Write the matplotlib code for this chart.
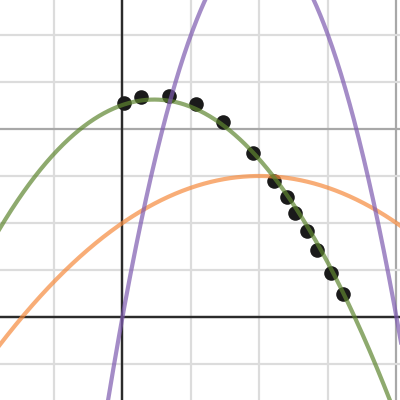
import numpy as np
import matplotlib
matplotlib.use("Agg")
import matplotlib.pyplot as plt

# data points (black dots)
pts_x = [0.011, 0.135, 0.337, 0.536, 0.731, 0.950, 1.106, 1.199, 1.261, 1.349, 1.418, 1.520, 1.607]
pts_y = [2.273, 2.344, 2.354, 2.266, 2.078, 1.748, 1.450, 1.280, 1.110, 0.918, 0.713, 0.465, 0.240]

# curve coefficients (highest power first)
green_coef = [-1.08, 0.50, 2.255]
orange_coef = [-0.5, 1.0, 1.0]    # -0.5(x-1)^2 + 1.5
purple_coef = [-4.0, 8.0, 0.0]    # -4(x-1)^2 + 4

x_range = (-0.894, 2.026)
y_range = (-0.883, 3.372)

fig = plt.figure(figsize=(4, 4), dpi=100)
ax = fig.add_axes([0, 0, 1, 1])

# grid: minor every 0.5, major every 2
ax.set_xticks(np.arange(-2, 4.01, 0.5), minor=True)
ax.set_yticks(np.arange(-2, 4.01, 0.5), minor=True)
ax.set_xticks(np.arange(-2, 4.01, 2))
ax.set_yticks(np.arange(-2, 4.01, 2))
ax.grid(which="minor", color="#dcdcdc", linewidth=1.6, zorder=0)
ax.grid(which="major", color="#a8a8a8", linewidth=1.6, zorder=0)
ax.tick_params(which="both", length=0, labelbottom=False, labelleft=False)
for s in ax.spines.values():
    s.set_visible(False)
ax.set_axisbelow(True)
ax.axhline(0, color="#2b2b2b", linewidth=1.7, zorder=1)
ax.axvline(0, color="#2b2b2b", linewidth=1.7, zorder=1)

ax.scatter(pts_x, pts_y, s=110, color="#1a1a1a", zorder=2, linewidths=0)

xx = np.linspace(x_range[0] - 0.1, x_range[1] + 0.1, 600)
ax.plot(xx, np.polyval(orange_coef, xx), color="#f68b3e", alpha=0.7, linewidth=3.0, zorder=3)
ax.plot(xx, np.polyval(green_coef, xx), color="#5f8630", alpha=0.7, linewidth=3.0, zorder=4)
ax.plot(xx, np.polyval(purple_coef, xx), color="#7e5bb0", alpha=0.7, linewidth=3.0, zorder=5)

ax.set_xlim(*x_range)
ax.set_ylim(*y_range)

fig.savefig("out.png", dpi=100)
